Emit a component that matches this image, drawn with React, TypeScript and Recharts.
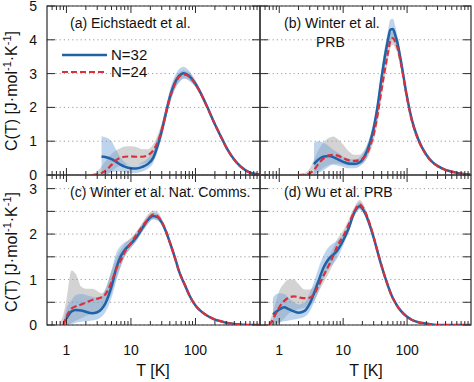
import {
  Area,
  CartesianGrid,
  ComposedChart,
  Line,
  ReferenceArea,
  XAxis,
  YAxis,
} from 'recharts';

type Band = [number, number] | null;
type Val = number | null;

// temperature grid (K), shared by all four panels
const temps = [
  0.7, 0.8, 0.9, 1, 1.2, 1.4, 1.7, 2, 2.5, 3,
  3.5, 4, 5, 6, 7, 8, 10, 12, 15, 18,
  22, 26, 30, 35, 40, 50, 55, 60, 65, 70,
  80, 100, 120, 150, 200, 250, 300, 400, 500, 700, 1000,
];

const xTicks = [
  0.6, 0.7, 0.8, 0.9, 1, 2, 3, 4, 5, 6, 7, 8, 9, 10, 20, 30, 40, 50, 60, 70, 80, 90,
  100, 200, 300, 400, 500, 600, 700, 800, 900,
];
const xMajor = [1, 10, 100];
const yTicksTop = [0, 1, 2, 3, 4, 5];
const yTicksBottom = [0, 0.5, 1, 1.5, 2, 2.5, 3];

// (a) Eichstaedt et al.
const blueA: Val[] = [
  null, null, null, null, null, null, null, null, null, null,
  0.55, 0.53, 0.47, 0.38, 0.3, 0.25, 0.2, 0.19, 0.24, 0.32,
  0.5, 0.88, 1.3, 1.85, 2.3, 2.8, 2.92, 2.98, 3.01, 3.0,
  2.93, 2.7, 2.43, 2.04, 1.5, 1.12, 0.82, 0.45, 0.25, 0.07, 0.01,
];
const redA: Val[] = [
  null, null, null, null, null, null, null, null, 0, 0.02,
  0.06, 0.12, 0.3, 0.45, 0.51, 0.54, 0.55, 0.54, 0.54, 0.58,
  0.72, 0.98, 1.33, 1.85, 2.27, 2.76, 2.89, 2.95, 2.97, 2.97,
  2.91, 2.69, 2.42, 2.03, 1.5, 1.12, 0.82, 0.45, 0.25, 0.07, 0.01,
];
const blueBandA: Band[] = [
  null, null, null, null, null, null, null, null, null, null,
  [0.02, 1.15], [0.02, 1.12], [0.08, 1.0], [0.1, 0.72], [0.1, 0.5], [0.08, 0.38], [0.06, 0.3], [0.06, 0.3], [0.1, 0.38], [0.18, 0.48],
  [0.35, 0.7], [0.7, 1.1], [1.1, 1.5], [1.65, 2.05], [2.1, 2.5], [2.6, 3.0], [2.72, 3.12], [2.8, 3.18], [2.84, 3.2], [2.84, 3.18],
  [2.78, 3.08], [2.6, 2.8], [2.36, 2.5], [1.98, 2.1], [1.45, 1.55], [1.08, 1.16], [0.79, 0.85], null, null, null, null,
];
const grayBandA: Band[] = [
  null, null, null, null, null, null, null, null, null, [0, 0.1],
  [0, 0.25], [0, 0.4], [0.1, 0.62], [0.22, 0.74], [0.28, 0.8], [0.3, 0.84], [0.3, 0.85], [0.3, 0.83], [0.33, 0.76], [0.38, 0.76],
  [0.5, 0.9], [0.8, 1.18], [1.15, 1.52], [1.68, 2.02], [2.1, 2.45], [2.62, 2.92], [2.74, 3.02], [2.82, 3.08], [2.86, 3.1], [2.86, 3.08],
  [2.8, 3.04], [2.6, 2.78], [2.36, 2.5], [1.98, 2.1], [1.46, 1.54], [1.09, 1.15], [0.79, 0.85], null, null, null, null,
];

// (b) Winter et al. PRB
const blueB: Val[] = [
  null, null, null, null, null, null, null, null, null, null,
  0.32, 0.44, 0.55, 0.56, 0.53, 0.48, 0.39, 0.34, 0.33, 0.37,
  0.58, 0.93, 1.38, 2.1, 2.9, 3.98, 4.3, 4.32, 4.15, 3.95,
  3.38, 2.3, 1.6, 1.05, 0.6, 0.38, 0.27, 0.15, 0.1, 0.04, 0.01,
];
const redB: Val[] = [
  null, null, null, null, null, null, null, 0, 0.01, 0.05,
  0.15, 0.3, 0.5, 0.58, 0.6, 0.58, 0.5, 0.44, 0.42, 0.44,
  0.55, 0.82, 1.2, 1.85, 2.55, 3.6, 3.98, 4.05, 3.95, 3.8,
  3.3, 2.27, 1.58, 1.03, 0.59, 0.37, 0.26, 0.15, 0.1, 0.04, 0.01,
];
const blueBandB: Band[] = [
  null, null, null, null, null, null, null, null, null, null,
  [0, 0.95], [0.05, 1.0], [0.15, 0.95], [0.25, 0.85], [0.3, 0.75], [0.28, 0.68], [0.24, 0.55], [0.2, 0.48], [0.2, 0.46], [0.25, 0.52],
  [0.42, 0.75], [0.75, 1.12], [1.18, 1.6], [1.9, 2.3], [2.65, 3.15], [3.7, 4.25], [4.0, 4.6], [4.02, 4.62], [3.88, 4.42], [3.72, 4.15],
  [3.22, 3.55], [2.2, 2.4], [1.55, 1.66], [1.0, 1.1], [0.57, 0.63], [0.36, 0.4], [0.25, 0.29], null, null, null, null,
];
const grayBandB: Band[] = [
  null, null, null, null, null, null, null, null, [0, 0.05], [0, 0.2],
  [0.02, 0.45], [0.08, 0.7], [0.22, 0.98], [0.3, 1.1], [0.33, 1.14], [0.33, 1.08], [0.3, 0.9], [0.28, 0.72], [0.27, 0.6], [0.3, 0.6],
  [0.4, 0.78], [0.65, 1.1], [1.0, 1.55], [1.6, 2.25], [2.3, 2.95], [3.35, 3.85], [3.75, 4.2], [3.85, 4.25], [3.75, 4.08], [3.62, 3.92],
  [3.15, 3.4], [2.18, 2.35], [1.52, 1.62], [0.97, 1.06], [0.56, 0.62], [0.35, 0.39], [0.24, 0.28], null, null, null, null,
];

// (c) Winter et al. Nat. Comms.
const blueC: Val[] = [
  null, null, null, 0.14, 0.3, 0.33, 0.32, 0.29, 0.26, 0.28,
  0.35, 0.47, 0.85, 1.28, 1.52, 1.65, 1.79, 1.92, 2.13, 2.3,
  2.4, 2.37, 2.26, 2.05, 1.82, 1.4, 1.2, 1.06, 0.95, 0.85,
  0.66, 0.43, 0.31, 0.21, 0.12, 0.08, 0.05, 0.02, 0.01, 0, 0,
];
const redC: Val[] = [
  null, null, 0, 0.18, 0.36, 0.41, 0.45, 0.49, 0.55, 0.58,
  0.61, 0.67, 0.95, 1.25, 1.43, 1.6, 1.8, 1.97, 2.17, 2.31,
  2.43, 2.39, 2.27, 2.06, 1.82, 1.4, 1.2, 1.06, 0.95, 0.85,
  0.66, 0.43, 0.31, 0.21, 0.12, 0.08, 0.05, 0.02, 0.01, 0, 0,
];
const blueBandC: Band[] = [
  null, null, [0, 0.1], [0, 0.35], [0.02, 0.55], [0.05, 0.66], [0.07, 0.68], [0.08, 0.66], [0.1, 0.62], [0.12, 0.6],
  [0.18, 0.62], [0.28, 0.78], [0.6, 1.2], [1.0, 1.6], [1.3, 1.75], [1.5, 1.82], [1.7, 1.9], [1.83, 2.02], [2.05, 2.22], [2.22, 2.38],
  [2.33, 2.47], [2.3, 2.44], [2.2, 2.32], [2.0, 2.1], [1.78, 1.86], [1.37, 1.43], [1.17, 1.23], [1.03, 1.09], [0.92, 0.98], [0.82, 0.88],
  null, null, null, null, null, null, null, null, null, null, null,
];
const grayBandC: Band[] = [
  null, [0, 0.05], [0, 0.25], [0, 0.55], [0.05, 1.2], [0.1, 1.12], [0.15, 0.84], [0.2, 0.8], [0.25, 0.8], [0.3, 0.75],
  [0.35, 0.7], [0.45, 0.78], [0.7, 1.2], [1.05, 1.5], [1.3, 1.66], [1.5, 1.78], [1.7, 1.92], [1.85, 2.05], [2.05, 2.25], [2.2, 2.42],
  [2.32, 2.52], [2.3, 2.48], [2.2, 2.34], [2.0, 2.1], [1.78, 1.86], [1.37, 1.43], [1.17, 1.23], [1.03, 1.09], [0.92, 0.98], [0.82, 0.88],
  null, null, null, null, null, null, null, null, null, null, null,
];

// (d) Wu et al. PRB
const blueD: Val[] = [
  null, 0.23, 0.29, 0.34, 0.39, 0.35, 0.3, 0.27, 0.31, 0.47,
  0.7, 0.92, 1.28, 1.46, 1.55, 1.63, 1.86, 2.1, 2.48, 2.61,
  2.46, 2.2, 1.92, 1.58, 1.29, 0.87, 0.71, 0.59, 0.5, 0.42,
  0.31, 0.18, 0.11, 0.06, 0.03, 0.01, 0, 0, 0, 0, 0,
];
const redD: Val[] = [
  0, 0.13, 0.27, 0.39, 0.53, 0.6, 0.63, 0.61, 0.59, 0.6,
  0.68, 0.83, 1.1, 1.32, 1.52, 1.72, 1.95, 2.19, 2.5, 2.65,
  2.5, 2.23, 1.94, 1.59, 1.3, 0.87, 0.71, 0.59, 0.5, 0.42,
  0.31, 0.18, 0.11, 0.06, 0.03, 0.01, 0, 0, 0, 0, 0,
];
const blueBandD: Band[] = [
  null, [0, 0.6], [0.02, 0.68], [0.05, 0.7], [0.08, 0.68], [0.1, 0.6], [0.12, 0.5], [0.14, 0.45], [0.18, 0.5], [0.3, 0.7],
  [0.5, 0.95], [0.7, 1.2], [1.05, 1.55], [1.25, 1.72], [1.35, 1.8], [1.45, 1.85], [1.75, 2.0], [2.02, 2.2], [2.4, 2.56], [2.54, 2.7],
  [2.4, 2.54], [2.14, 2.26], [1.87, 1.97], [1.54, 1.62], [1.26, 1.32], null, null, null, null, null,
  null, null, null, null, null, null, null, null, null, null, null,
];
const grayBandD: Band[] = [
  [0, 0.05], [0, 0.3], [0.02, 0.55], [0.05, 0.75], [0.15, 0.92], [0.25, 1.0], [0.3, 1.0], [0.35, 0.9], [0.38, 0.78], [0.42, 0.78],
  [0.52, 0.85], [0.68, 1.0], [0.95, 1.28], [1.15, 1.5], [1.35, 1.7], [1.55, 1.88], [1.82, 2.08], [2.08, 2.3], [2.4, 2.6], [2.55, 2.75],
  [2.42, 2.58], [2.15, 2.28], [1.88, 1.98], [1.54, 1.62], [1.26, 1.32], null, null, null, null, null,
  null, null, null, null, null, null, null, null, null, null, null,
];

const W = 474;
const H = 382;
const INK = '#2b2b2b';
const BLUE = '#1f63a6';
const RED = '#d8303c';
const FONT = '"Liberation Sans", Arial, Helvetica, sans-serif';

interface Box {
  left: number;
  top: number;
  right: number;
  bottom: number;
}

interface PanelProps {
  box: Box;
  blue: Val[];
  red: Val[];
  blueBand: Band[];
  grayBand: Band[];
  yMax: number;
  yTicks: number[];
  yLabels: boolean;
  xLabels: boolean;
}

function Panel({ box, blue, red, blueBand, grayBand, yMax, yTicks, yLabels, xLabels }: PanelProps) {
  const rows = temps.map((t, i) => ({
    t,
    blue: blue[i],
    red: red[i],
    blueBand: blueBand[i],
    grayBand: grayBand[i],
  }));

  const XTick = (props: any) => {
    const { x, payload } = props;
    const v = payload.value;
    const major = xMajor.includes(v);
    const len = major ? 7 : 4;
    return (
      <g>
        <line x1={x} x2={x} y1={box.bottom} y2={box.bottom - len} stroke={INK} strokeWidth={1} />
        <line x1={x} x2={x} y1={box.top} y2={box.top + len} stroke={INK} strokeWidth={1} />
        {major && xLabels && (
          <text x={x} y={355} textAnchor="middle" fontSize={14} fontFamily={FONT} fill="#111">
            {v}
          </text>
        )}
      </g>
    );
  };

  const YTick = (props: any) => {
    const { y, payload } = props;
    const v = payload.value;
    return (
      <g>
        <line x1={box.left} x2={box.left + 8} y1={y} y2={y} stroke={INK} strokeWidth={1} />
        <line x1={box.right - 8} x2={box.right} y1={y} y2={y} stroke={INK} strokeWidth={1} />
        {yLabels && Number.isInteger(v) && (
          <text x={37} y={y + 5} textAnchor="end" fontSize={14} fontFamily={FONT} fill="#111">
            {v}
          </text>
        )}
      </g>
    );
  };

  // axes get 1px of room (a zero-sized axis is not drawn at all)
  return (
    <div style={{ position: 'absolute', left: 0, top: 0 }}>
      <ComposedChart
        width={W}
        height={H}
        data={rows}
        margin={{ top: box.top, left: box.left - 1, right: W - box.right, bottom: H - box.bottom - 1 }}
      >
        <CartesianGrid vertical={false} stroke="#9c9c9c" strokeDasharray="1.2 3" />
        <XAxis
          dataKey="t"
          type="number"
          scale="log"
          domain={[0.5, 1000]}
          allowDataOverflow
          ticks={xTicks}
          interval={0}
          height={1}
          axisLine={false}
          tickLine={false}
          tick={XTick}
        />
        <YAxis
          type="number"
          domain={[0, yMax]}
          allowDataOverflow
          ticks={yTicks}
          interval={0}
          width={1}
          axisLine={false}
          tickLine={false}
          tick={YTick}
        />
        <Area
          type="monotone"
          dataKey="grayBand"
          stroke="none"
          fill="#9e9e9e"
          fillOpacity={0.45}
          isAnimationActive={false}
        />
        <Area
          type="monotone"
          dataKey="blueBand"
          stroke="none"
          fill="#6f9fd8"
          fillOpacity={0.45}
          isAnimationActive={false}
        />
        <Line
          type="monotone"
          dataKey="blue"
          stroke={BLUE}
          strokeWidth={2.5}
          dot={false}
          isAnimationActive={false}
        />
        <Line
          type="monotone"
          dataKey="red"
          stroke={RED}
          strokeWidth={2.2}
          strokeDasharray="6 3"
          dot={false}
          isAnimationActive={false}
        />
        <ReferenceArea
          x1={0.5}
          x2={1000}
          y1={0}
          y2={yMax}
          fill="none"
          fillOpacity={0}
          stroke={INK}
          strokeWidth={1.2}
          ifOverflow="visible"
        />
      </ComposedChart>
    </div>
  );
}

function YTitle({ cy }: { cy: number }) {
  return (
    <text
      x={17}
      y={cy}
      transform={`rotate(-90 17 ${cy})`}
      textAnchor="middle"
      fontSize={16}
      fontFamily={FONT}
      fill="#111"
    >
      C(T) [J·mol
      <tspan dy={-6} fontSize={11}>-1</tspan>
      <tspan dy={6}>·K</tspan>
      <tspan dy={-6} fontSize={11}>-1</tspan>
      <tspan dy={6}>]</tspan>
    </text>
  );
}

export default function App() {
  const boxA = { left: 47, top: 6, right: 260, bottom: 175 };
  const boxB = { left: 260, top: 6, right: 471, bottom: 175 };
  const boxC = { left: 47, top: 175, right: 260, bottom: 325 };
  const boxD = { left: 260, top: 175, right: 471, bottom: 325 };
  const label = { fontSize: 14, fontFamily: FONT, fill: '#111' };

  return (
    <div style={{ position: 'absolute', left: 0, top: 0, width: W, height: H, background: '#fff' }}>
      <Panel box={boxA} blue={blueA} red={redA} blueBand={blueBandA} grayBand={grayBandA}
        yMax={5} yTicks={yTicksTop} yLabels xLabels={false} />
      <Panel box={boxB} blue={blueB} red={redB} blueBand={blueBandB} grayBand={grayBandB}
        yMax={5} yTicks={yTicksTop} yLabels={false} xLabels={false} />
      <Panel box={boxC} blue={blueC} red={redC} blueBand={blueBandC} grayBand={grayBandC}
        yMax={3.3} yTicks={yTicksBottom} yLabels xLabels />
      <Panel box={boxD} blue={blueD} red={redD} blueBand={blueBandD} grayBand={grayBandD}
        yMax={3.3} yTicks={yTicksBottom} yLabels={false} xLabels />

      <svg width={W} height={H} style={{ position: 'absolute', left: 0, top: 0, pointerEvents: 'none' }}>
        <text x={70} y={28} {...label}>(a) Eichstaedt et al.</text>
        <text x={284} y={28} {...label}>(b) Winter et al.</text>
        <text x={316} y={47} {...label}>PRB</text>
        <text x={70} y={197} {...label}>(c) Winter et al. Nat. Comms.</text>
        <text x={284} y={197} {...label}>(d) Wu et al. PRB</text>

        <line x1={62} x2={107} y1={55} y2={55} stroke={BLUE} strokeWidth={2.5} />
        <text x={111} y={60} fontSize={15} fontFamily={FONT} fill="#111">N=32</text>
        <line x1={62} x2={107} y1={72} y2={72} stroke={RED} strokeWidth={2.2} strokeDasharray="6 3" />
        <text x={111} y={77} fontSize={15} fontFamily={FONT} fill="#111">N=24</text>

        <YTitle cy={91} />
        <YTitle cy={252} />
        <text x={153} y={376} textAnchor="middle" fontSize={16} fontFamily={FONT} fill="#111">T [K]</text>
        <text x={366} y={376} textAnchor="middle" fontSize={16} fontFamily={FONT} fill="#111">T [K]</text>
      </svg>
    </div>
  );
}
